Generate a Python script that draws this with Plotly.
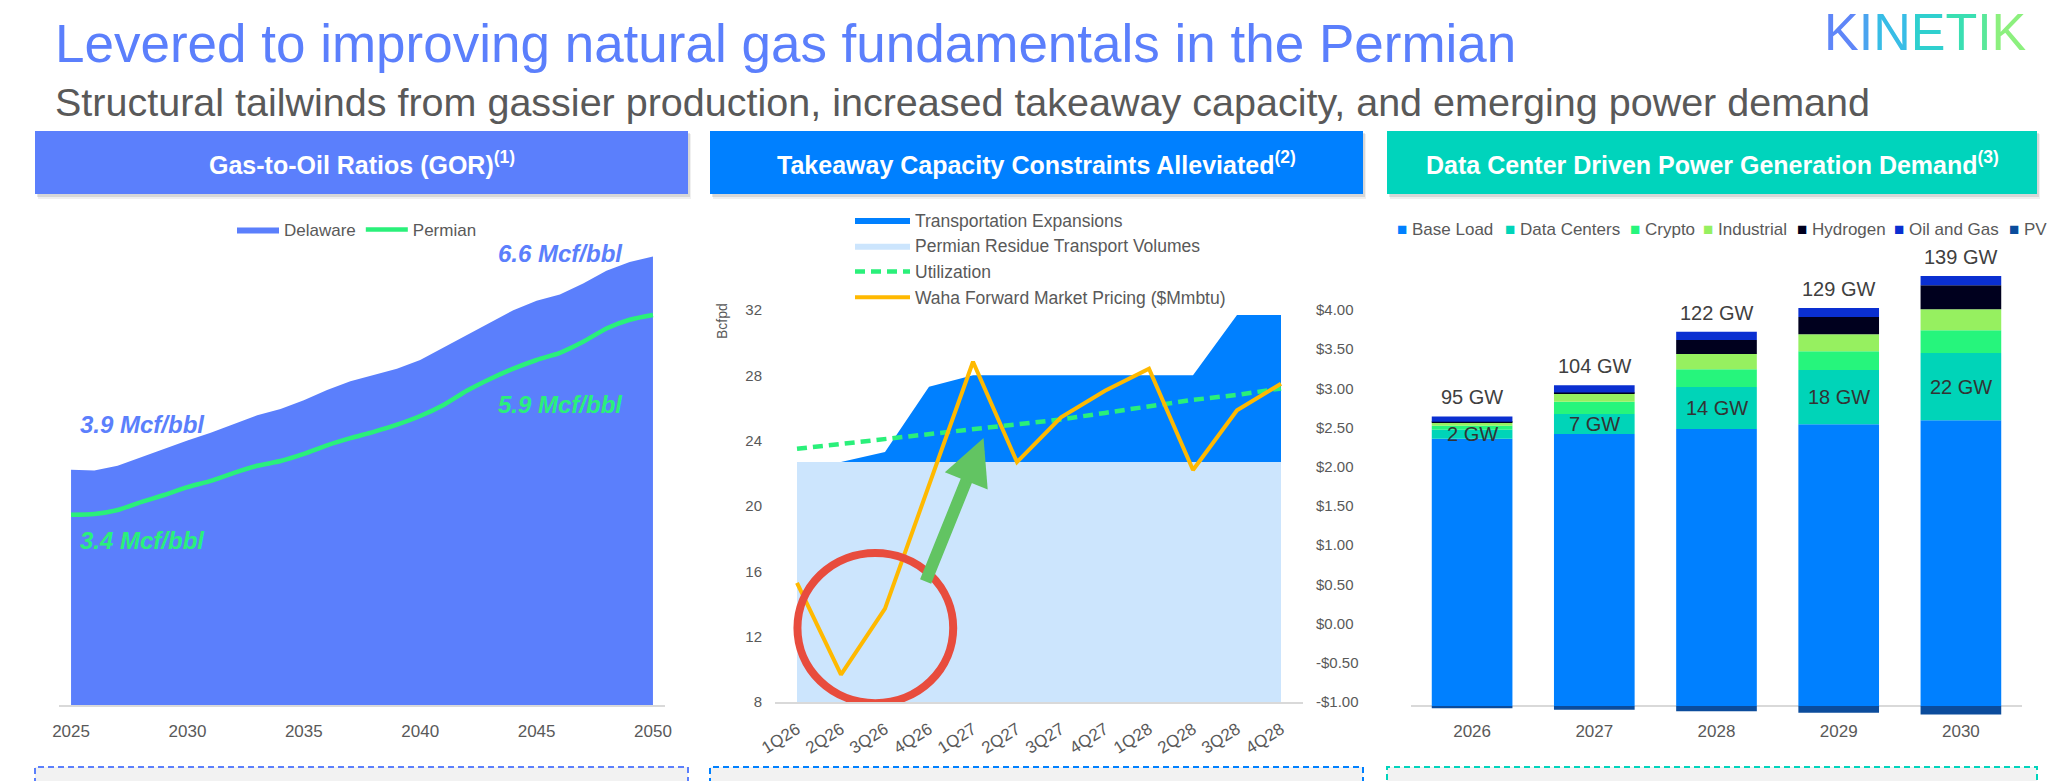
import plotly.graph_objects as go

W, H = 2059, 781
FONT = "Liberation Sans, Arial, sans-serif"
GRAY = "#595959"

# ---------------- data ----------------
GOR_YEARS = list(range(2025, 2051))
DELAWARE_GOR = [3.90, 3.89, 3.95, 4.06, 4.16, 4.27, 4.37, 4.48, 4.59, 4.67, 4.78, 4.91, 5.02,
                5.10, 5.18, 5.29, 5.45, 5.61, 5.77, 5.92, 6.04, 6.12, 6.26, 6.42, 6.53, 6.60]
PERMIAN_GOR = [3.33, 3.34, 3.39, 3.49, 3.58, 3.68, 3.76, 3.86, 3.95, 4.01, 4.10, 4.21, 4.30,
               4.38, 4.47, 4.58, 4.72, 4.90, 5.05, 5.18, 5.29, 5.38, 5.52, 5.69, 5.80, 5.86]
GOR_TICKS = [2025, 2030, 2035, 2040, 2045, 2050]
GOR_LABELS = ["3.9 Mcf/bbl", "3.4 Mcf/bbl", "6.6 Mcf/bbl", "5.9 Mcf/bbl"]

QUARTERS = ["1Q26", "2Q26", "3Q26", "4Q26", "1Q27", "2Q27", "3Q27", "4Q27",
            "1Q28", "2Q28", "3Q28", "4Q28"]
RESIDUE_VOL = [22.7, 22.7, 22.7, 22.7, 22.7, 22.7, 22.7, 22.7, 22.7, 22.7, 22.7, 22.7]
EXPANSIONS = [0.0, 0.0, 0.6, 4.6, 5.3, 5.3, 5.3, 5.3, 5.3, 5.3, 9.0, 9.0]
UTILIZATION = [23.5, 23.8, 24.1, 24.4, 24.7, 25.0, 25.3, 25.7, 26.1, 26.5, 26.8, 27.2]
WAHA_PRICE = [0.52, -0.65, 0.19, 1.75, 3.34, 2.06, 2.63, 2.97, 3.25, 1.96, 2.72, 3.06]
BCF_TICKS = [8, 12, 16, 20, 24, 28, 32]
PRICE_TICKS = [-1.0, -0.5, 0.0, 0.5, 1.0, 1.5, 2.0, 2.5, 3.0, 3.5, 4.0]
PRICE_TICK_LABELS = ["-$1.00", "-$0.50", "$0.00", "$0.50", "$1.00", "$1.50",
                     "$2.00", "$2.50", "$3.00", "$3.50", "$4.00"]

POWER_YEARS = ["2026", "2027", "2028", "2029", "2030"]
BASE_LOAD = [86.8, 88.3, 89.9, 91.5, 92.8]
DATA_CENTERS = [2.9, 6.5, 13.7, 17.6, 21.8]
CRYPTO = [1.3, 4.0, 5.7, 6.1, 7.4]
INDUSTRIAL = [1.2, 2.7, 5.0, 5.5, 6.8]
HYDROGEN = [0.1, 0.3, 4.5, 5.6, 7.8]
OIL_AND_GAS = [1.7, 2.3, 2.7, 2.9, 3.0]
PV = [-0.7, -1.2, -1.7, -2.2, -2.8]
TOTAL_LABELS = ["95 GW", "104 GW", "122 GW", "129 GW", "139 GW"]
DC_LABELS = ["2 GW", "7 GW", "14 GW", "18 GW", "22 GW"]
POWER_NAMES = ["Base Load", "Data Centers", "Crypto", "Industrial", "Hydrogen", "Oil and Gas", "PV"]

# ---------------- styles ----------------
PERI = "#5b7ffc"
BLUE = "#0080ff"
TEAL = "#00d4bc"
GREEN = "#2af07a"
LIGHT_BLUE = "#cce5fd"
AMBER = "#ffb900"
POWER_COLORS = ["#0080ff", "#00d4b8", "#26f57c", "#96f060", "#00001e", "#0a2fd1", "#0b4c9c"]


def px(x):
    return x / W


def py(y):
    return 1 - y / H


fig = go.Figure()

# ---- left: GOR ----
fig.add_trace(go.Scatter(x=GOR_YEARS, y=DELAWARE_GOR, name="Delaware", mode="lines",
                         line=dict(width=0, color=PERI), fill="tozeroy", fillcolor=PERI,
                         xaxis="x", yaxis="y", legend="legend"))
fig.add_trace(go.Scatter(x=GOR_YEARS, y=PERMIAN_GOR, name="Permian", mode="lines",
                         line=dict(width=4.5, color=GREEN, shape="spline", smoothing=0.6),
                         xaxis="x", yaxis="y", legend="legend"))

# ---- middle: takeaway ----
fig.add_trace(go.Scatter(x=QUARTERS, y=RESIDUE_VOL, name="Permian Residue Transport Volumes",
                         mode="lines", line=dict(width=0, color=LIGHT_BLUE), fillcolor=LIGHT_BLUE,
                         stackgroup="cap", xaxis="x2", yaxis="y2", legend="legend2", legendrank=2))
fig.add_trace(go.Scatter(x=QUARTERS, y=EXPANSIONS, name="Transportation Expansions",
                         mode="lines", line=dict(width=0, color=BLUE), fillcolor=BLUE,
                         stackgroup="cap", xaxis="x2", yaxis="y2", legend="legend2", legendrank=1))
fig.add_trace(go.Scatter(x=QUARTERS, y=UTILIZATION, name="Utilization", mode="lines",
                         line=dict(width=4.5, color=GREEN, dash="10px,6px"),
                         xaxis="x2", yaxis="y2", legend="legend2", legendrank=3))
fig.add_trace(go.Scatter(x=QUARTERS, y=WAHA_PRICE, name="Waha Forward Market Pricing ($Mmbtu)",
                         mode="lines", line=dict(width=4, color=AMBER),
                         xaxis="x2", yaxis="y3", legend="legend2", legendrank=4))

# ---- right: power demand ----
POWER_SERIES = [BASE_LOAD, DATA_CENTERS, CRYPTO, INDUSTRIAL, HYDROGEN, OIL_AND_GAS, PV]
for name, vals, color in zip(POWER_NAMES, POWER_SERIES, POWER_COLORS):
    fig.add_trace(go.Bar(x=POWER_YEARS, y=vals, name=name, showlegend=False,
                         marker=dict(color=color, line=dict(width=0)),
                         xaxis="x3", yaxis="y4"))

tickfont = dict(family=FONT, color=GRAY)

# right chart vertical mapping: 0 GW at 706 px, 3.08 px per GW
R_MIN, R_MAX = -3.5, 150
r_bottom = 706 - R_MIN * 3.08
r_top = 706 - R_MAX * 3.08

layout = dict(
    width=W, height=H, margin=dict(l=0, r=0, t=0, b=0),
    paper_bgcolor="white", plot_bgcolor="white", template="none",
    font=dict(family=FONT, color=GRAY),
    barmode="relative", bargap=0.34,
    xaxis=dict(domain=[px(59.4), px(664.6)], range=[2024.5, 2050.5], anchor="y",
               tickvals=GOR_TICKS, showgrid=False, zeroline=False, showline=True,
               linecolor="#d9d9d9", linewidth=2, ticks="", ticklabelstandoff=10,
               tickfont=dict(size=17, **tickfont)),
    yaxis=dict(domain=[py(705), py(225)], range=[0.92, 7.0], anchor="x", visible=False),
    xaxis2=dict(domain=[px(775), px(1303)], range=[-0.5, 11.5], type="category", anchor="y2",
                showgrid=False, zeroline=False, showline=True, linecolor="#d9d9d9", linewidth=2,
                ticks="", tickangle=-32, ticklabelstandoff=9, tickfont=dict(size=17, **tickfont)),
    yaxis2=dict(domain=[py(702), py(310)], range=[8, 32], anchor="x2", tickvals=BCF_TICKS,
                showgrid=False, zeroline=False, showline=False, ticks="", ticklabelstandoff=12,
                tickfont=dict(size=15, **tickfont)),
    yaxis3=dict(range=[-1, 4], overlaying="y2", side="right", anchor="x2",
                tickvals=PRICE_TICKS, ticktext=PRICE_TICK_LABELS, showgrid=False,
                zeroline=False, showline=False, ticks="", ticklabelstandoff=12,
                tickfont=dict(size=15, **tickfont)),
    xaxis3=dict(domain=[px(1411), px(2022)], range=[-0.5, 4.5], type="category", anchor="y4",
                showgrid=False, zeroline=False, showline=False, ticks="", ticklabelstandoff=2,
                tickfont=dict(size=17, **tickfont)),
    yaxis4=dict(domain=[py(r_bottom), py(r_top)], range=[R_MIN, R_MAX], anchor="x3",
                showgrid=False, showticklabels=False, ticks="", showline=False,
                zeroline=True, zerolinecolor="#d9d9d9", zerolinewidth=2),
    legend=dict(x=px(232), y=py(212), xanchor="left", yanchor="top", orientation="h",
                font=dict(size=17, family=FONT, color=GRAY), bgcolor="rgba(0,0,0,0)",
                itemwidth=42, traceorder="normal"),
    legend2=dict(x=px(850), y=py(202), xanchor="left", yanchor="top", orientation="v",
                 font=dict(size=17.5, family=FONT, color=GRAY), bgcolor="rgba(0,0,0,0)",
                 itemwidth=55, traceorder="normal", tracegroupgap=0),
)
fig.update_layout(**layout)

shapes = []


def rect(x0, y0, x1, y1, **kw):
    shapes.append(dict(type="rect", xref="paper", yref="paper",
                       x0=px(x0), x1=px(x1), y0=py(y1), y1=py(y0), **kw))


PANELS = [(35, 688, PERI), (710, 1363, BLUE), (1387, 2037, TEAL)]
for x0, x1, c in PANELS:
    # soft drop shadow
    rect(x0 + 3, 134, x1 + 3, 199, fillcolor="rgba(0,0,0,0.06)", line=dict(width=0))
    rect(x0 + 2, 133, x1 + 2, 197, fillcolor="rgba(0,0,0,0.10)", line=dict(width=0))
    rect(x0, 131, x1, 194, fillcolor=c, line=dict(width=0))
    # dashed note box at the bottom
    rect(x0, 767, x1, 800, fillcolor="#f2f2f2", line=dict(color=c, width=2, dash="6px,4px"))

# red circle highlight
shapes.append(dict(type="circle", xref="x2", yref="y2", x0=0.01, x1=3.55, y0=7.93, y1=17.13,
                   line=dict(color="#e84c3d", width=8), layer="above"))
fig.update_layout(shapes=shapes)

ann = []


def text(x, y, s, size, color=GRAY, xanchor="left", weight="normal", **kw):
    ann.append(dict(xref="paper", yref="paper", x=px(x), y=py(y), text=s, showarrow=False,
                    xanchor=xanchor, yanchor="middle",
                    font=dict(family=FONT, size=size, color=color, weight=weight), **kw))


text(53, 43, "Levered to improving natural gas fundamentals in the Permian", 53, PERI)
text(53, 102, "Structural tailwinds from gassier production, increased takeaway capacity, "
              "and emerging power demand", 39.5, GRAY)

LOGO_COLORS = ["#5f86f8", "#4aa4ef", "#38bde6", "#2fd0cf", "#3adfb2", "#5ae89a", "#8cf07e"]
logo = "".join(f'<span style="color:{c}">{ch}</span>' for ch, c in zip("KINETIK", LOGO_COLORS))
text(2029, 32, logo, 52, xanchor="right")

HEADERS = ["Gas-to-Oil Ratios (GOR)<sup>(1)</sup>",
           "Takeaway Capacity Constraints Alleviated<sup>(2)</sup>",
           "Data Center Driven Power Generation Demand<sup>(3)</sup>"]
for (x0, x1, c), h in zip(PANELS, HEADERS):
    text((x0 + x1) / 2, 163, h, 25, "white", xanchor="center", weight="bold")

# left chart value labels
GOR_LABEL_POS = [(2025.3, 4.47, PERI), (2025.3, 3.01, GREEN), (2043.26, 6.64, PERI), (2043.26, 4.73, GREEN)]
for lab, (lx, ly, lc) in zip(GOR_LABELS, GOR_LABEL_POS):
    ann.append(dict(xref="x", yref="y", x=lx, y=ly, text=lab, showarrow=False,
                    xanchor="left", yanchor="middle",
                    font=dict(family=FONT, size=24, color=lc, weight="bold", style="italic")))

# middle chart
text(722, 321, "Bcfpd", 14, GRAY, xanchor="center", textangle=-90)
ann.append(dict(xref="x2", yref="y2", axref="x2", ayref="y2", x=4.24, y=24.16, ax=2.91, ay=15.28,
                text="", showarrow=True, arrowhead=2, arrowwidth=12, arrowsize=0.77,
                arrowcolor="#62c462"))

# right chart legend (compact square markers)
LEG_X = [1397, 1505, 1630, 1703, 1797, 1894, 2009]
for lx, name, c in zip(LEG_X, POWER_NAMES, POWER_COLORS):
    text(lx - 2, 229, f'<span style="color:{c}">■</span> {name}', 17, GRAY)

# totals and data-center labels (category index positions)
for i in range(len(POWER_YEARS)):
    top = sum(s[i] for s in POWER_SERIES if s[i] > 0)
    ann.append(dict(xref="x3", yref="y4", x=i, y=top, text=TOTAL_LABELS[i], showarrow=False,
                    xanchor="center", yanchor="bottom", yshift=6,
                    font=dict(family=FONT, size=20, color="#404040")))
    ann.append(dict(xref="x3", yref="y4", x=i, y=BASE_LOAD[i] + DATA_CENTERS[i] / 2,
                    text=DC_LABELS[i], showarrow=False, xanchor="center", yanchor="middle",
                    font=dict(family=FONT, size=20, color="#333333")))

fig.update_layout(annotations=ann)
fig.write_html("out.html")
